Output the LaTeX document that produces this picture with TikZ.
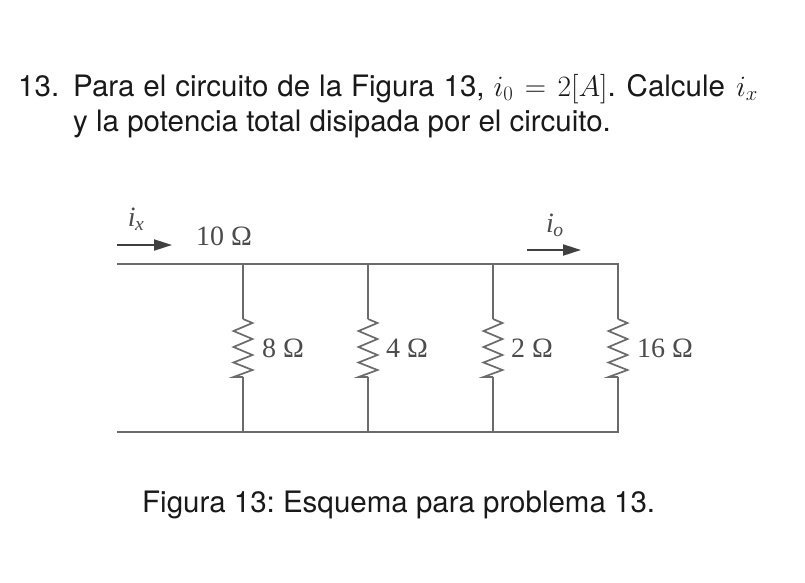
\RequirePackage{fix-cm}
\documentclass[tikz,border=0pt]{standalone}
\usepackage{fontspec}
\setmainfont{TeX Gyre Heros}
\newfontfamily\circfont{Liberation Serif}
\usetikzlibrary{arrows.meta}
\frenchspacing
\definecolor{wirec}{gray}{0.42}
\definecolor{labc}{gray}{0.30}
\definecolor{arrc}{gray}{0.25}
\tikzset{
  wire/.style={draw=wirec,line width=1.7pt},
  prose/.style={anchor=base west,inner sep=0pt,font=\fontsize{29.5}{34}\selectfont,text=black!90},
  lab/.style={anchor=base west,inner sep=0pt,font=\circfont\fontsize{28}{32}\selectfont,text=labc},
  cur/.style={inner sep=0pt,font=\circfont\itshape\fontsize{28}{32}\selectfont,text=labc},
  curarrow/.style={draw=arrc,line width=2pt,-{Triangle[length=18pt,width=11pt]}}
}
\newcommand{\zigres}[2]{%
  \draw[wire,line join=miter] (#1) -- ++(9.5,4) -- ++(-19,8) -- ++(19,8) -- ++(-19,8) -- ++(19,8) -- ++(-19,7.5) -- ++(19,7.5) -- ++(-19,7) -- (#2);}
\begin{document}
\begin{tikzpicture}[x=1pt,y=-1pt]
\useasboundingbox (0,0) rectangle (805,582);
\fill[white] (0,0) rectangle (805,582);
% prose
\node[prose] (n13) at (18,96) {13.};
\node[prose] (l1) at (73,96) {\spaceskip=9pt Para el circuito de la Figura 13, $\thickmuskip=7mu i_0=2[A]$.\hspace{11pt}Calcule\hspace{11pt}$i_x$};
\node[prose] (l2) at (73,131) {y la potencia total disipada por el circuito.};
\node[prose] (cap) at (142,512.5) {Figura 13: Esquema para problema 13.};
% junctions
\coordinate (in) at (117,264);
\coordinate (t1) at (243,264);
\coordinate (t2) at (368,264);
\coordinate (t3) at (493,264);
\coordinate (t4) at (618,264);
\coordinate (bin) at (117,432);
\coordinate (b1) at (243,432);
\coordinate (b2) at (368,432);
\coordinate (b3) at (493,432);
\coordinate (b4) at (618,432);
\foreach \i/\x in {1/243,2/368,3/493,4/618}{
  \coordinate (ra\i) at (\x,319);
  \coordinate (rb\i) at (\x,377);
}
% wires
\draw[wire] (in) -- (t4) -- (ra4);
\draw[wire] (bin) -- (b4) -- (rb4);
\foreach \i in {1,2,3}{
  \draw[wire] (t\i) -- (ra\i);
  \draw[wire] (rb\i) -- (b\i);
}
\foreach \i in {1,2,3,4}{\zigres{ra\i}{rb\i}}
% arrows
\coordinate (ax1) at (117,245);
\coordinate (ax2) at (172,245);
\coordinate (ao1) at (527,250);
\coordinate (ao2) at (581,250);
\draw[curarrow] (ax1) -- (ax2);
\draw[curarrow] (ao1) -- (ao2);
% labels
\node[cur] (ix) at (136,219) {i\textsubscript{\kern-0.5pt x}};
\node[cur] (io) at (555,225) {i\textsubscript{\kern-0.5pt o}};
\node[lab] (r10) at (196,245) {10 Ω};
\node[lab] (r8) at (262,357) {8 Ω};
\node[lab] (r4) at (386,357) {4 Ω};
\node[lab] (r2) at (511,357) {2 Ω};
\node[lab] (r16) at (637,357) {16 Ω};
\end{tikzpicture}
\end{document}
